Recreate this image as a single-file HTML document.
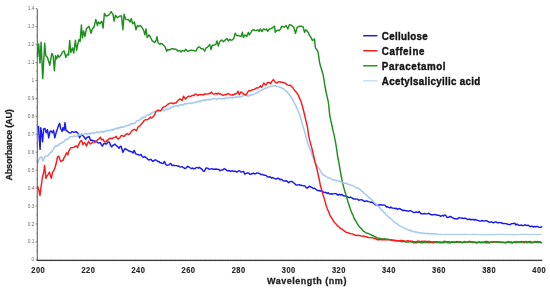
<!DOCTYPE html>
<html><head><meta charset="utf-8"><style>
html,body{margin:0;padding:0;background:#fff;}
svg{display:block;}
text{font-family:"Liberation Sans",sans-serif;}
</style></head><body>
<svg width="550" height="291" viewBox="0 0 550 291">
<rect width="550" height="291" fill="#fff"/>

<g fill="none" stroke-linejoin="round" stroke-linecap="round">
<path d="M37.9 127.7L38.5 126.5L39.2 137.9L40.1 149.4L40.8 127.7L41.7 134.1L42.6 141.7L43.6 129.0L44.9 128.4L46.2 132.8L47.5 129.6L48.7 137.9L50.0 131.5L51.0 130.9L52.3 132.8L53.6 130.3L54.8 137.9L56.1 132.8L57.4 129.0L58.6 125.2L59.7 123.3L60.8 129.0L62.1 131.5L63.0 127.7L64.0 130.3L65.0 122.6L66.0 130.3L66.9 130.9L67.8 131.6L68.8 132.3L69.9 133.0L71.0 132.9L72.0 131.6L73.0 131.9L74.1 132.3L75.1 132.0L76.1 131.6L77.0 132.4L77.9 133.0L79.6 137.8L80.7 135.6L81.7 134.3L82.7 135.4L83.7 136.4L84.8 138.0L85.8 139.2L87.2 137.1L88.2 137.2L89.2 136.4L90.6 140.6L91.7 140.0L92.7 140.6L93.8 140.6L94.8 141.2L96.2 141.3L97.5 142.6L98.9 143.0L100.3 142.6L101.3 144.6L102.4 146.1L103.4 144.1L104.4 143.3L105.8 144.0L106.8 143.7L107.9 142.0L109.4 142.1L110.5 145.2L111.5 146.9L112.8 145.5L113.8 145.0L114.9 144.1L116.0 145.3L117.0 146.2L118.0 146.8L119.0 148.3L120.0 146.6L121.1 146.2L122.0 149.3L122.9 152.4L124.6 149.0L125.6 148.7L126.6 149.7L127.6 149.9L128.7 151.0L129.8 151.0L130.8 151.7L131.9 151.7L132.9 153.1L134.2 150.4L135.6 153.8L136.6 154.1L137.7 154.5L138.8 154.8L139.8 155.2L141.1 154.5L142.1 156.4L143.2 157.3L144.6 156.6L145.6 157.3L146.7 158.0L147.7 159.2L148.7 160.0L149.8 159.6L150.8 159.3L151.9 160.6L152.9 161.4L153.9 160.6L155.0 160.0L156.0 160.0L157.0 160.7L158.1 161.7L159.1 161.4L160.1 162.8L161.2 162.8L162.2 163.6L163.2 163.5L164.4 161.4L166.0 164.9L167.4 165.2L168.8 164.9L169.8 163.9L170.8 163.5L172.2 165.6L173.6 165.2L175.0 165.6L176.4 165.6L177.8 166.2L178.8 165.9L179.8 166.9L180.9 167.1L182.1 166.6L183.4 167.5L184.8 168.6L186.2 167.9L187.6 166.3L189.0 167.0L190.4 168.0L191.4 168.6L192.4 168.0L193.8 168.8L195.2 168.6L196.2 167.6L197.2 167.5L198.3 168.2L199.3 167.3L200.7 168.3L202.1 169.3L203.1 171.0L204.2 171.4L205.2 169.6L206.2 168.0L207.6 168.1L209.0 169.3L210.4 169.1L211.8 168.6L213.2 169.3L214.5 169.3L215.9 169.0L217.3 169.3L218.7 169.4L220.1 170.7L221.1 170.1L222.1 170.0L223.1 169.9L224.2 168.6L225.6 169.3L226.6 170.4L227.7 170.7L229.1 170.5L230.4 171.4L231.6 171.0L232.7 170.8L233.9 171.4L235.2 171.1L236.6 172.1L237.6 171.8L238.7 170.7L239.8 170.9L240.8 172.1L242.2 171.8L243.5 171.4L244.9 174.2L246.3 173.4L247.7 172.8L248.8 173.1L249.8 174.2L251.2 174.2L252.5 173.5L253.5 173.1L254.5 173.9L255.5 173.8L256.9 172.9L258.3 173.1L259.6 173.7L261.0 174.5L262.4 174.4L263.8 175.2L265.2 175.2L266.6 175.9L267.6 176.9L268.6 177.0L269.7 176.7L270.7 177.3L271.8 178.2L272.8 177.5L273.8 178.1L274.9 178.6L275.9 179.1L276.9 178.8L278.0 178.0L279.0 178.6L280.0 179.8L281.1 179.2L282.1 179.8L283.1 180.7L284.5 181.1L285.9 180.7L287.3 181.5L288.7 182.8L289.7 181.8L290.7 181.4L292.1 181.5L293.5 182.8L294.6 183.3L295.6 184.9L297.0 185.0L298.3 184.9L299.4 184.7L300.4 185.4L301.4 185.2L302.5 185.6L303.9 185.8L305.2 186.1L306.2 187.7L307.3 188.1L308.4 187.1L309.4 186.2L310.8 187.0L312.2 187.6L313.2 188.6L314.2 188.2L315.3 188.7L316.3 189.7L317.7 190.6L319.1 190.4L320.1 191.2L321.1 190.7L322.2 191.0L323.2 191.8L324.6 192.5L326.0 192.5L327.1 193.4L328.2 192.6L329.2 193.9L330.3 194.0L331.4 193.7L332.5 194.0L333.6 193.9L334.8 193.6L335.9 193.6L337.0 194.4L338.1 195.2L339.2 194.3L340.3 195.0L341.4 194.5L342.5 195.0L343.6 195.9L344.7 196.0L345.8 196.0L346.9 196.2L348.0 197.1L349.2 197.7L350.4 197.1L351.6 197.6L352.7 198.3L353.9 199.0L355.1 199.0L356.3 199.1L357.5 199.1L358.8 200.2L360.0 199.9L361.0 199.8L362.1 199.9L363.1 200.6L364.1 201.2L365.2 201.3L366.3 200.9L367.5 201.2L368.6 201.6L369.7 201.9L370.7 202.4L371.8 202.1L372.8 202.8L373.8 203.3L375.2 204.7L376.3 205.2L377.4 205.4L378.5 204.9L379.6 205.0L380.7 204.7L381.9 205.2L383.0 204.9L384.1 205.1L385.3 205.4L386.5 207.0L387.6 206.8L388.7 207.3L389.8 208.0L390.9 206.9L392.0 208.0L393.1 208.1L394.2 208.2L395.3 208.7L396.5 208.3L397.6 209.4L398.7 208.8L399.8 208.5L400.9 209.4L402.0 210.0L403.1 210.5L404.2 210.2L405.4 210.6L406.5 210.7L407.6 211.0L408.8 211.2L410.0 210.6L411.1 210.9L412.1 211.5L413.1 212.2L414.2 212.5L415.2 212.3L416.2 212.0L417.3 212.4L418.3 212.3L419.4 211.6L420.8 213.7L421.9 213.8L423.1 213.9L424.2 213.5L425.4 213.8L426.6 213.9L427.7 213.7L428.9 213.3L430.1 214.2L431.3 214.8L432.4 214.8L433.6 214.7L434.8 214.4L436.0 214.7L437.1 215.3L438.2 215.3L439.3 215.4L440.4 216.2L441.5 216.0L442.6 215.3L443.6 216.1L444.6 214.9L445.7 215.4L447.0 217.4L448.1 217.4L449.1 217.0L450.1 216.5L451.2 216.7L452.3 217.7L453.5 218.1L454.6 218.8L455.9 218.8L457.1 219.1L458.4 218.0L459.6 217.6L460.9 218.1L462.0 218.0L463.1 218.6L464.2 218.1L465.3 218.2L466.4 218.8L467.5 219.5L468.6 219.3L469.7 219.1L470.8 219.9L471.9 219.5L473.0 219.4L474.1 220.0L475.2 219.5L476.3 220.0L477.4 220.2L478.5 220.7L479.7 221.0L480.9 221.1L482.0 220.5L483.1 220.9L484.3 220.9L485.4 220.8L486.6 220.7L487.8 221.4L488.9 222.0L490.1 222.2L491.2 221.9L492.4 222.3L493.5 222.8L494.7 222.0L495.9 222.0L497.0 222.5L498.2 222.7L499.4 222.5L500.5 222.6L501.6 223.0L502.8 223.5L504.0 223.4L505.1 223.6L506.5 223.7L507.8 224.3L509.0 224.6L510.2 224.6L511.5 223.7L512.7 223.6L513.8 223.3L514.9 223.5L516.0 225.0L517.1 224.1L518.2 225.0L519.3 225.4L520.4 225.3L521.5 225.0L522.6 225.7L523.7 225.4L524.8 224.8L525.9 225.1L527.0 225.7L528.1 225.2L529.2 226.0L530.2 226.7L531.3 226.2L532.4 226.3L533.4 227.1L534.4 226.3L535.5 226.9L536.5 226.5L537.5 226.4L538.5 227.1L539.6 227.4L540.7 227.3L541.7 226.8" stroke="#1a1af2" stroke-width="1.45"/>
<path d="M37.6 57.0L37.9 48.0L38.7 43.9L40.0 62.9L41.1 42.3L42.7 78.7L43.7 60.9L44.7 43.1L45.8 55.7L47.4 57.3L48.6 61.3L49.8 65.2L50.8 59.4L51.9 53.4L53.2 56.5L54.4 70.8L55.5 55.7L56.6 58.9L57.9 55.0L59.2 57.3L60.2 55.9L61.1 55.0L62.6 51.8L64.2 51.0L65.8 57.3L67.4 54.2L68.6 55.0L69.7 40.5L70.8 52.5L72.5 47.9L73.7 53.1L75.4 40.3L76.6 50.2L77.8 44.4L78.9 39.7L80.1 41.4L81.4 25.0L82.4 37.9L83.6 31.0L84.9 36.5L86.4 29.0L87.7 27.5L88.9 26.3L90.0 29.5L91.1 33.2L92.3 28.9L94.0 27.2L94.9 23.3L95.8 19.5L97.5 25.5L98.3 22.0L100.0 23.7L100.9 22.3L101.8 21.2L103.1 28.0L104.4 13.4L106.0 16.0L107.3 15.8L108.6 15.2L109.9 13.6L111.2 11.7L112.1 13.1L113.0 14.3L114.1 21.2L115.5 15.2L117.2 17.7L118.5 16.9L119.8 16.0L121.5 16.0L122.9 29.8L124.1 14.3L125.8 19.5L127.1 19.6L128.4 19.5L130.1 22.0L131.3 18.6L132.7 23.7L134.4 22.0L136.0 29.8L137.4 25.5L138.6 26.3L140.3 25.5L142.0 27.2L143.7 30.6L144.9 34.9L146.0 28.9L147.2 37.5L148.9 34.9L150.6 37.5L152.3 40.9L153.4 41.5L154.6 42.6L156.3 40.0L157.0 36.6L158.0 42.6L159.0 43.5L160.0 44.4L160.9 43.5L161.8 43.5L163.5 45.2L165.2 46.9L166.6 51.2L167.8 49.5L169.1 50.0L170.4 49.5L171.7 48.6L173.0 48.7L174.2 49.3L175.5 49.2L176.8 49.7L178.1 51.2L179.8 50.4L181.0 52.1L182.4 50.4L184.1 51.2L185.8 49.2L187.5 51.2L188.8 51.0L190.1 50.4L191.4 50.2L192.7 50.4L193.8 50.5L194.9 51.1L196.0 50.9L197.3 48.3L198.6 46.9L199.9 47.3L201.2 48.7L202.9 48.7L204.6 51.2L206.3 47.8L207.4 47.4L208.4 46.1L209.7 44.4L211.1 49.5L212.3 45.2L214.0 45.2L214.9 44.8L215.8 44.4L217.0 40.9L218.3 46.1L219.7 41.8L221.4 40.1L222.4 40.5L223.5 41.8L225.2 40.1L226.9 38.4L228.3 40.9L230.0 39.2L231.1 40.2L232.1 40.1L233.8 38.4L235.2 33.2L236.2 35.0L237.2 35.8L238.1 35.3L239.0 35.8L240.0 36.1L241.0 36.6L242.4 32.3L243.3 37.5L245.0 34.9L246.7 36.6L248.4 32.3L249.3 34.9L251.0 32.3L252.0 30.6L253.0 29.8L254.2 30.0L255.3 30.6L256.0 30.6L257.7 29.8L259.1 31.5L260.3 28.9L262.0 31.5L263.7 28.9L264.6 29.5L265.5 29.8L266.7 28.9L267.7 31.5L268.7 29.8L269.7 28.9L271.0 28.7L272.3 28.0L273.5 26.6L274.6 26.3L275.2 32.3L276.6 30.6L277.9 30.2L279.2 30.6L280.5 28.8L281.8 26.3L283.1 26.6L284.4 27.2L286.1 25.5L287.8 28.9L289.5 24.6L291.2 25.1L292.5 26.1L293.8 27.2L295.5 33.2L297.2 27.2L298.1 26.9L299.0 26.3L300.2 26.3L301.5 26.3L302.4 26.6L303.3 27.2L304.5 32.3L305.8 29.8L307.5 31.5L308.4 32.6L309.3 34.9L311.0 37.6L312.4 40.3L313.8 39.8L314.5 39.1L314.9 43.3L315.5 48.1L316.6 49.5L318.0 51.6L318.6 55.7L319.6 62.6L320.7 66.8L321.8 70.2L323.2 75.0L324.9 86.0L325.9 91.0L326.9 95.7L328.3 101.9L329.0 108.1L329.7 115.0L330.9 120.9L332.1 126.0L333.1 131.2L334.2 135.7L335.6 142.6L336.7 149.5L337.4 155.0L339.0 163.3L340.4 171.6L341.3 176.5L342.2 181.2L343.9 188.1L344.9 191.4L345.9 195.0L346.9 198.3L348.0 201.9L349.4 206.2L350.8 210.2L351.9 213.1L353.1 215.4L354.2 218.5L355.2 220.0L356.3 221.8L357.3 223.7L358.4 225.4L359.4 226.8L360.4 227.8L361.5 228.6L362.5 230.2L363.5 231.3L364.5 231.7L365.5 232.6L366.6 233.0L367.6 233.2L368.6 233.7L369.7 234.2L370.7 234.6L371.8 235.4L372.8 235.4L373.8 236.2L374.9 236.8L375.9 237.0L376.9 237.9L378.0 238.3L379.1 238.1L380.2 238.4L381.3 238.6L382.4 239.0L383.5 239.0L384.6 238.8L385.8 239.2L386.9 239.1L388.1 239.3L389.2 239.6L390.4 239.7L391.6 240.3L392.8 240.1L394.0 240.7L395.1 240.2L396.3 241.0L397.5 240.8L398.7 241.1L399.9 241.0L401.1 241.6L402.3 241.8L403.4 241.2L404.6 241.6L405.8 242.1L407.0 242.0L408.2 241.9L409.3 241.9L410.5 241.8L411.7 241.9L412.9 242.5L414.0 242.8L415.2 242.5L416.4 242.9L417.6 242.5L418.8 242.1L419.9 242.4L421.1 242.7L422.3 242.8L423.5 242.5L424.7 242.6L425.9 242.3L427.1 242.6L428.2 242.5L429.4 242.7L430.6 242.4L431.8 242.6L432.9 242.9L433.9 242.8L434.9 242.2L436.0 242.4" stroke="#1d901d" stroke-width="1.45"/>
<path d="M37.9 162.4L38.8 159.7L40.2 157.6L41.6 156.9L43.0 161.0L44.4 157.6L45.4 156.2L46.4 156.2L47.3 156.1L48.2 155.2L49.4 153.9L50.6 152.0L51.6 152.1L52.6 150.7L53.7 148.3L54.7 146.8L55.8 145.8L56.8 146.2L57.9 145.5L58.9 144.7L59.9 143.6L61.0 143.6L62.0 142.4L63.0 141.9L64.0 141.7L65.0 139.9L66.1 139.4L67.1 139.2L68.1 139.2L69.2 137.5L70.2 136.7L71.3 136.4L72.3 136.9L73.3 136.6L74.4 135.8L75.4 136.4L76.5 136.1L77.5 136.0L78.5 134.7L79.6 135.0L80.6 135.1L81.7 134.0L82.7 134.2L83.7 134.3L84.8 133.4L85.8 133.4L86.9 134.6L87.9 133.6L88.9 133.3L90.0 134.2L91.0 133.0L92.0 133.0L93.0 133.0L94.1 133.3L95.2 132.8L96.2 132.3L97.2 131.6L98.2 132.5L99.3 132.5L100.3 132.3L101.3 131.6L102.3 131.2L103.4 132.4L104.4 131.6L105.3 131.4L106.2 130.6L107.1 130.8L108.0 130.7L109.0 130.0L110.0 130.8L111.0 130.1L111.9 129.2L112.9 130.3L113.9 128.8L114.9 129.3L115.9 128.6L116.9 127.9L117.9 128.9L118.8 127.5L119.8 127.9L120.8 126.9L121.8 127.3L122.8 127.0L123.8 127.0L124.8 126.5L125.7 126.0L126.7 125.8L127.7 125.4L128.7 125.2L129.7 125.0L130.7 123.7L131.7 124.0L132.6 123.1L133.6 123.9L134.6 123.6L135.6 122.4L136.7 120.9L137.8 120.4L138.9 120.7L140.0 119.7L141.0 119.1L142.1 117.4L143.1 118.0L144.1 116.9L145.2 117.2L146.2 115.8L147.2 115.1L148.3 114.9L149.3 114.5L150.4 114.6L151.4 112.9L152.4 112.8L153.4 112.1L154.5 111.5L155.6 112.0L156.6 111.4L157.6 111.2L158.6 110.6L159.7 110.7L160.7 110.7L161.8 109.7L162.8 110.0L163.8 111.0L164.9 110.0L165.9 109.8L166.9 108.9L168.0 109.7L169.0 108.6L170.0 108.0L171.1 107.5L172.1 106.8L173.1 107.3L174.2 106.3L175.2 106.1L176.2 105.8L177.3 105.9L178.3 106.3L179.4 105.0L180.4 104.7L181.4 104.9L182.4 104.8L183.5 105.1L184.6 103.7L185.6 103.8L186.6 104.1L187.6 103.2L188.7 103.4L189.7 103.1L190.8 103.1L191.8 103.5L192.8 103.0L193.9 102.4L194.9 102.2L195.9 102.7L197.0 101.6L198.0 101.7L199.1 101.2L200.1 101.9L201.1 100.8L202.2 100.4L203.2 100.7L204.2 99.7L205.3 100.6L206.3 99.7L207.3 99.8L208.4 99.1L209.4 100.3L210.4 99.4L211.3 99.3L212.3 99.0L213.2 98.8L214.1 98.4L215.1 98.5L216.0 99.0L217.1 99.3L218.2 98.3L219.2 98.4L220.3 98.7L221.4 98.8L222.4 98.8L223.4 98.4L224.4 99.0L225.3 98.0L226.3 98.1L227.3 98.1L228.3 98.1L229.3 97.3L230.3 97.4L231.3 97.2L232.2 98.1L233.2 97.0L234.2 97.8L235.2 97.4L236.2 96.7L237.2 97.3L238.2 97.1L239.2 96.3L240.2 97.2L241.2 96.5L242.2 96.0L243.2 96.0L244.2 95.0L245.2 95.6L246.1 95.2L247.1 95.5L248.1 96.3L249.1 95.4L250.1 95.4L251.1 94.5L252.1 94.8L253.1 94.7L254.1 94.1L255.2 93.6L256.2 92.7L257.2 92.8L258.3 92.0L259.3 91.3L260.4 91.0L261.4 90.3L262.4 89.3L263.4 89.2L264.5 88.9L265.6 87.9L266.6 87.9L267.6 87.8L268.6 87.0L269.7 86.6L270.7 86.5L271.8 86.2L272.8 86.2L273.8 85.6L274.9 85.8L275.9 86.0L276.9 86.6L278.0 86.6L279.0 86.9L280.0 87.3L281.1 87.6L282.1 88.6L283.1 88.6L284.0 89.1L284.9 90.1L285.7 90.7L286.6 91.3L287.5 92.0L288.4 93.8L289.2 94.2L290.1 95.5L291.0 97.3L291.9 98.6L292.8 99.6L293.7 101.8L294.7 103.6L295.6 105.1L296.6 107.5L297.7 110.0L298.7 112.5L299.7 115.0L300.7 118.3L301.7 121.9L302.8 125.7L303.8 128.8L304.9 132.6L305.9 137.1L306.8 139.6L307.7 143.0L308.6 145.4L309.5 147.9L310.5 150.2L311.4 152.3L312.1 155.0L313.0 157.4L314.0 159.2L314.9 161.2L315.9 163.4L316.9 165.0L318.0 167.2L319.0 168.8L319.9 169.8L320.8 171.5L321.6 173.0L322.5 174.3L323.6 175.2L324.8 175.6L325.9 176.4L326.8 177.0L327.7 177.7L328.6 177.7L329.6 178.0L330.5 178.4L331.4 179.2L332.4 179.8L333.4 179.8L334.4 180.0L335.3 180.4L336.3 180.3L337.3 180.7L338.3 181.2L339.3 181.3L340.3 181.6L341.3 182.4L342.2 182.2L343.2 182.4L344.2 183.3L345.2 183.3L346.2 183.6L347.2 183.5L348.2 184.3L349.2 184.6L350.2 184.9L351.2 185.3L352.2 185.4L353.2 185.8L354.2 186.2L355.2 187.1L356.1 187.4L357.1 188.0L358.1 188.1L359.1 188.8L360.2 189.6L361.2 190.8L362.3 191.5L363.4 192.5L364.4 193.4L365.5 194.3L366.4 195.3L367.3 195.8L368.2 196.7L369.2 197.8L370.1 198.2L371.0 199.2L371.9 199.9L372.9 201.1L373.8 201.7L374.7 203.2L375.7 203.6L376.6 204.7L377.5 205.9L378.4 206.6L379.4 207.2L380.3 208.4L381.2 209.4L382.1 210.2L383.0 211.2L383.9 212.3L384.9 213.1L385.8 214.6L386.7 214.9L387.6 216.2L388.5 217.2L389.4 217.4L390.4 218.6L391.3 219.1L392.2 219.9L393.1 221.0L394.1 221.8L395.1 222.7L396.1 222.9L397.0 223.7L398.0 224.5L399.0 225.3L400.0 225.9L401.0 226.3L402.0 226.8L403.0 227.6L404.0 227.9L405.0 228.2L406.0 229.1L407.0 229.3L407.9 230.0L408.8 229.9L409.8 230.0L410.7 230.5L411.6 231.4L412.5 231.4L413.5 231.3L414.5 231.6L415.5 232.2L416.4 231.9L417.4 232.7L418.4 232.4L419.4 232.8L420.4 232.8L421.4 233.1L422.4 232.8L423.3 233.4L424.3 233.3L425.3 233.6L426.3 233.5L427.3 233.8L428.2 233.2L429.2 233.9L430.2 233.9L431.1 233.5L432.1 233.8L433.1 233.5L434.1 233.9L435.0 234.1L436.0 233.9" stroke="#a4c8ee" stroke-width="1.5"/>
<path d="M436.0 233.9L438.5 234.4L441.0 234.4L443.5 234.5L446.0 234.4L448.5 234.5L451.0 234.5L453.5 234.4L456.0 234.5L458.5 234.4L461.0 234.5L463.5 234.4L466.0 234.4L468.5 234.5L471.0 234.6L473.5 234.4L476.0 234.4L478.5 234.5L481.0 234.6L483.5 234.5L486.0 234.5L488.5 234.6L491.0 234.4L493.5 234.6L496.0 234.4L498.5 234.4L501.0 234.4L503.5 234.4L506.0 234.6L508.5 234.4L511.0 234.5L513.5 234.5L516.0 234.5L518.5 234.5L521.0 234.4L523.5 234.4L526.0 234.4L528.5 234.6L531.0 234.5L533.5 234.4L536.0 234.5L538.5 234.5L541.0 234.4" stroke="#aacdf0" stroke-width="1.25"/>
<path d="M37.6 186.5L38.9 190.0L40.0 195.5L41.0 187.0L42.6 176.5L43.8 172.0L44.6 165.5L45.9 178.5L46.8 176.2L47.8 174.9L49.5 172.1L50.4 175.6L51.3 178.3L52.6 172.1L53.7 170.8L54.7 168.6L56.1 163.8L57.5 156.9L58.9 156.2L59.9 159.7L60.9 161.7L62.0 160.4L63.0 160.4L64.0 157.7L65.1 156.2L66.5 152.8L67.8 154.8L68.8 151.1L69.9 149.0L71.3 147.6L72.7 147.5L74.1 147.3L75.4 146.1L76.5 146.0L77.5 147.5L78.5 145.1L79.6 142.6L80.7 141.0L81.7 140.6L83.0 144.7L84.4 142.6L85.5 143.9L86.5 146.1L87.5 143.5L88.6 141.2L89.6 143.3L90.6 144.0L91.7 143.2L92.7 142.0L93.8 141.2L94.8 142.6L95.8 141.4L96.8 141.2L97.8 139.4L98.9 139.2L100.3 137.1L101.7 139.9L103.1 139.2L104.1 141.4L105.1 142.0L106.2 141.6L107.2 139.9L108.2 139.9L109.3 138.5L110.8 138.3L112.2 138.7L113.5 137.6L114.9 137.4L116.3 136.2L117.3 138.6L118.4 139.0L119.8 137.9L121.1 135.6L122.2 135.4L123.2 136.2L124.2 136.3L125.3 134.9L126.3 134.2L127.3 133.5L128.3 134.4L129.4 134.2L130.4 132.9L131.5 131.4L132.8 130.2L134.2 129.3L135.2 129.7L136.3 130.7L137.4 128.5L138.4 126.6L140.0 125.9L141.4 123.9L142.8 122.5L144.2 120.5L145.5 119.7L146.9 119.9L148.3 119.0L149.4 118.4L150.4 116.9L151.4 118.0L152.4 117.6L153.4 116.6L154.5 114.9L155.9 111.4L156.9 110.8L158.0 110.0L159.3 110.7L160.7 110.7L162.1 108.6L163.5 107.0L164.9 106.6L166.2 105.8L167.6 104.5L169.0 103.7L170.4 103.1L171.8 102.9L173.1 103.8L174.5 103.0L175.9 103.1L176.9 101.8L178.0 100.4L179.1 99.3L180.1 99.0L181.1 99.6L182.1 100.4L183.5 96.2L184.6 97.8L185.6 99.0L186.6 97.8L187.7 96.9L188.8 96.1L190.0 96.4L191.1 96.2L192.5 95.4L193.9 95.5L195.2 94.1L196.6 94.4L198.0 95.5L199.4 94.7L200.8 94.8L202.2 94.6L203.5 94.8L204.9 93.8L206.3 94.1L207.7 94.0L209.1 93.5L210.1 93.5L211.1 92.1L212.1 92.9L213.2 94.1L214.6 94.1L215.9 93.3L217.1 94.2L218.2 93.0L219.4 94.0L220.4 93.8L221.4 94.7L222.6 95.2L223.7 95.2L224.9 94.7L226.0 94.7L227.2 93.7L228.3 94.0L229.4 94.0L230.4 94.9L231.4 95.1L232.5 94.7L233.6 95.0L234.8 93.8L235.9 94.0L236.9 93.2L238.0 91.2L239.4 94.7L240.8 91.9L242.2 92.7L243.5 94.0L244.9 94.7L246.3 94.7L247.7 92.0L249.1 90.5L250.4 91.0L251.8 90.0L253.0 89.7L254.3 89.4L255.5 88.6L256.9 87.8L258.3 87.9L259.4 87.0L260.4 85.8L261.7 87.2L262.8 85.2L263.8 83.0L264.9 84.2L265.9 85.1L267.3 83.0L268.3 82.5L269.3 82.4L270.7 83.7L272.1 81.0L273.5 79.6L274.9 81.7L275.9 82.7L276.9 83.0L277.9 82.1L279.0 81.7L280.1 81.7L281.1 82.4L282.5 82.2L283.8 83.0L285.2 83.0L286.6 84.4L288.0 85.1L289.1 85.4L290.1 85.1L291.4 86.5L292.8 87.6L294.2 90.0L295.6 91.3L297.0 93.4L298.0 94.5L299.0 96.9L300.1 99.4L301.1 101.7L302.5 106.5L303.9 112.0L304.9 116.3L305.9 120.5L307.3 126.0L308.6 135.7L309.6 139.9L310.7 144.0L312.1 149.1L313.5 155.0L314.9 161.9L315.9 165.3L316.9 168.8L317.9 173.5L319.0 178.5L320.7 186.8L321.9 190.6L323.1 195.0L324.1 198.1L325.2 201.9L326.2 205.7L327.3 208.8L328.7 211.9L330.1 215.7L331.2 217.4L332.4 219.2L333.5 221.2L334.7 222.7L335.8 223.7L337.0 225.4L338.0 226.2L339.1 227.0L340.1 228.2L341.1 228.8L342.1 229.1L343.1 230.1L344.2 230.9L345.2 231.6L346.3 232.4L347.4 232.5L348.6 232.8L349.7 233.4L350.8 233.7L351.8 233.9L352.9 234.0L353.9 234.7L354.9 235.0L356.2 235.5L357.4 235.5L358.7 235.3L360.0 235.6L361.0 235.9L362.1 236.2L363.1 235.9L364.1 236.2L365.2 236.6L366.2 236.8L367.2 237.0L368.3 237.6L369.4 237.6L370.5 237.6L371.6 237.9L372.7 237.8L373.8 238.3L374.9 238.6L375.9 238.7L376.9 239.6L378.0 239.7L379.2 239.8L380.4 239.3L381.6 239.9L382.8 239.5L384.0 239.7L385.2 239.7L386.4 239.6L387.6 239.7L388.8 239.7L390.0 239.9L391.2 239.8L392.3 240.6L393.5 240.1L394.7 240.8L395.9 240.7L397.0 240.5L398.1 240.6L399.2 240.7L400.3 240.4L401.4 240.5L402.6 240.7L403.7 240.8L404.8 241.2L405.9 241.3L407.0 240.9L408.2 240.6L409.3 241.1L410.5 240.9L411.7 241.5L412.9 241.3L414.0 241.8L415.2 241.6L416.3 241.6L417.4 241.3L418.5 241.1L419.6 241.3L420.8 241.8L421.9 241.2L423.0 241.4L424.1 241.3L425.2 241.3L426.3 241.4L427.5 241.7L428.7 241.3L429.9 241.7L431.1 241.7L432.4 242.0L433.6 241.7L434.8 242.1L436.0 241.8" stroke="#f81c1c" stroke-width="1.45"/>
<path d="M436.0 241.8L437.3 241.6L438.6 242.1L439.9 241.8L441.2 242.1L442.5 242.2L443.8 241.4L445.1 241.3L446.4 242.5L447.7 241.7L449.0 241.6L450.3 242.7L451.6 242.0L452.9 242.5L454.2 242.0L455.5 242.2L456.8 241.5L458.1 242.2L459.4 242.5L460.7 242.0L462.0 242.3L463.3 242.2L464.6 241.4L465.9 242.4L467.2 242.1L468.5 241.7L469.8 241.3L471.1 242.5L472.4 242.0L473.7 242.3L475.0 242.5L476.3 242.3L477.6 242.6L478.9 241.9L480.2 242.4L481.5 241.9L482.8 242.6L484.1 242.5L485.4 241.4L486.7 241.5L488.0 241.6L489.3 242.7L490.6 241.9L491.9 242.2L493.2 241.7L494.5 242.0L495.8 241.8L497.1 241.8L498.4 242.1L499.7 242.1L501.0 242.6L502.3 242.3L503.6 242.6L504.9 242.5L506.2 242.7L507.5 242.2L508.8 241.5L510.1 242.5L511.4 242.7L512.7 242.6L514.0 242.1L515.3 242.3L516.6 241.6L517.9 242.5L519.2 242.1L520.5 241.7L521.8 241.4L523.1 242.5L524.4 242.7L525.7 241.4L527.0 242.4L528.3 241.9L529.6 241.5L530.9 241.7L532.2 242.4L533.5 242.5L534.8 241.4L536.1 242.2L537.4 241.4L538.7 242.3L540.0 241.8L541.3 242.5" stroke="#f81c1c" stroke-width="1.45"/>
<path d="M436.0 242.4L437.3 242.4L438.6 242.6L439.9 242.7L441.2 242.8L442.5 242.6L443.8 242.8L445.1 241.7L446.4 242.3L447.7 242.8L449.0 242.5L450.3 242.8L451.6 241.8L452.9 242.3L454.2 242.0L455.5 242.4L456.8 242.4L458.1 241.7L459.4 242.0L460.7 242.0L462.0 242.8L463.3 242.6L464.6 241.9L465.9 242.7L467.2 241.9L468.5 242.4L469.8 241.9L471.1 241.7L472.4 242.7L473.7 242.0L475.0 242.0L476.3 242.9L477.6 242.7L478.9 242.0L480.2 242.9L481.5 242.3L482.8 242.5L484.1 241.9L485.4 242.8L486.7 242.5L488.0 242.9L489.3 242.8L490.6 242.1L491.9 242.1L493.2 241.9L494.5 241.9L495.8 241.8L497.1 242.1L498.4 242.4L499.7 241.7L501.0 242.5L502.3 242.1L503.6 242.1L504.9 242.7L506.2 242.3L507.5 242.1L508.8 242.3L510.1 242.5L511.4 241.8L512.7 242.9L514.0 241.7L515.3 242.6L516.6 242.7L517.9 241.7L519.2 242.6L520.5 242.1L521.8 242.4L523.1 241.7L524.4 241.8L525.7 241.9L527.0 242.8L528.3 241.9L529.6 242.6L530.9 242.8L532.2 242.8L533.5 242.1L534.8 242.1L536.1 242.3L537.4 242.6L538.7 241.8L540.0 242.6L541.3 242.7" stroke="#1d901d" stroke-width="1.45"/>
</g>
<path d="M40.21 258.6V262.4M42.71 258.6V262.4M45.22 258.6V262.4M47.72 258.6V262.4M50.23 258.6V262.4M52.73 258.6V262.4M55.24 258.6V262.4M57.74 258.6V262.4M60.25 258.6V262.4M62.75 258.6V262.4M65.26 258.6V262.4M67.76 258.6V262.4M70.27 258.6V262.4M72.77 258.6V262.4M75.28 258.6V262.4M77.78 258.6V262.4M80.28 258.6V262.4M82.79 258.6V262.4M85.29 258.6V262.4M87.80 258.6V262.4M90.30 258.6V262.4M92.81 258.6V262.4M95.31 258.6V262.4M97.82 258.6V262.4M100.32 258.6V262.4M102.83 258.6V262.4M105.33 258.6V262.4M107.84 258.6V262.4M110.34 258.6V262.4M112.85 258.6V262.4M115.35 258.6V262.4M117.86 258.6V262.4M120.36 258.6V262.4M122.87 258.6V262.4M125.37 258.6V262.4M127.88 258.6V262.4M130.38 258.6V262.4M132.89 258.6V262.4M135.39 258.6V262.4M137.90 258.6V262.4M140.40 258.6V262.4M142.91 258.6V262.4M145.41 258.6V262.4M147.92 258.6V262.4M150.42 258.6V262.4M152.93 258.6V262.4M155.43 258.6V262.4M157.94 258.6V262.4M160.44 258.6V262.4M162.95 258.6V262.4M165.45 258.6V262.4M167.96 258.6V262.4M170.46 258.6V262.4M172.97 258.6V262.4M175.47 258.6V262.4M177.98 258.6V262.4M180.48 258.6V262.4M182.99 258.6V262.4M185.49 258.6V262.4M188.00 258.6V262.4M190.50 258.6V262.4M193.01 258.6V262.4M195.51 258.6V262.4M198.02 258.6V262.4M200.52 258.6V262.4M203.03 258.6V262.4M205.53 258.6V262.4M208.04 258.6V262.4M210.54 258.6V262.4M213.05 258.6V262.4M215.55 258.6V262.4M218.06 258.6V262.4M220.56 258.6V262.4M223.07 258.6V262.4M225.57 258.6V262.4M228.08 258.6V262.4M230.58 258.6V262.4M233.09 258.6V262.4M235.59 258.6V262.4M238.10 258.6V262.4M240.60 258.6V262.4M243.11 258.6V262.4M245.61 258.6V262.4M248.12 258.6V262.4M250.62 258.6V262.4M253.13 258.6V262.4M255.63 258.6V262.4M258.14 258.6V262.4M260.64 258.6V262.4M263.15 258.6V262.4M265.65 258.6V262.4M268.16 258.6V262.4M270.66 258.6V262.4M273.17 258.6V262.4M275.67 258.6V262.4M278.18 258.6V262.4M280.68 258.6V262.4M283.19 258.6V262.4M285.69 258.6V262.4M288.20 258.6V262.4M290.70 258.6V262.4M293.21 258.6V262.4M295.71 258.6V262.4M298.22 258.6V262.4M300.72 258.6V262.4M303.23 258.6V262.4M305.73 258.6V262.4M308.24 258.6V262.4M310.74 258.6V262.4M313.25 258.6V262.4M315.75 258.6V262.4M318.26 258.6V262.4M320.76 258.6V262.4M323.27 258.6V262.4M325.77 258.6V262.4M328.28 258.6V262.4M330.78 258.6V262.4M333.29 258.6V262.4M335.79 258.6V262.4M338.30 258.6V262.4M340.80 258.6V262.4M343.31 258.6V262.4M345.81 258.6V262.4M348.32 258.6V262.4M350.82 258.6V262.4M353.33 258.6V262.4M355.83 258.6V262.4M358.34 258.6V262.4M360.84 258.6V262.4M363.35 258.6V262.4M365.85 258.6V262.4M368.36 258.6V262.4M370.86 258.6V262.4M373.37 258.6V262.4M375.87 258.6V262.4M378.38 258.6V262.4M380.88 258.6V262.4M383.39 258.6V262.4M385.89 258.6V262.4M388.40 258.6V262.4M390.90 258.6V262.4M393.41 258.6V262.4M395.91 258.6V262.4M398.42 258.6V262.4M400.92 258.6V262.4M403.43 258.6V262.4M405.93 258.6V262.4M408.44 258.6V262.4M410.94 258.6V262.4M413.45 258.6V262.4M415.95 258.6V262.4M418.46 258.6V262.4M420.96 258.6V262.4M423.47 258.6V262.4M425.97 258.6V262.4M428.48 258.6V262.4M430.98 258.6V262.4M433.49 258.6V262.4M435.99 258.6V262.4M438.50 258.6V262.4M441.00 258.6V262.4M443.51 258.6V262.4M446.01 258.6V262.4M448.52 258.6V262.4M451.02 258.6V262.4M453.53 258.6V262.4M456.03 258.6V262.4M458.54 258.6V262.4M461.04 258.6V262.4M463.55 258.6V262.4M466.05 258.6V262.4M468.56 258.6V262.4M471.06 258.6V262.4M473.57 258.6V262.4M476.07 258.6V262.4M478.58 258.6V262.4M481.08 258.6V262.4M483.59 258.6V262.4M486.09 258.6V262.4M488.60 258.6V262.4M491.10 258.6V262.4M493.61 258.6V262.4M496.11 258.6V262.4M498.62 258.6V262.4M501.12 258.6V262.4M503.63 258.6V262.4M506.13 258.6V262.4M508.64 258.6V262.4M511.14 258.6V262.4M513.65 258.6V262.4M516.15 258.6V262.4M518.66 258.6V262.4M521.16 258.6V262.4M523.67 258.6V262.4M526.17 258.6V262.4M528.68 258.6V262.4M531.18 258.6V262.4M533.69 258.6V262.4M536.19 258.6V262.4M538.70 258.6V262.4M541.20 258.6V262.4" stroke="#e2e2e2" stroke-width="0.6"/>
<line x1="37.25" y1="8.8" x2="37.25" y2="260.5" stroke="#505050" stroke-width="1.0"/>
<line x1="36.8" y1="260.25" x2="542.3" y2="260.25" stroke="#383838" stroke-width="1.25"/>
<g stroke="#6a6a6a" stroke-width="0.8">
<line x1="35.6" y1="259.80" x2="37.3" y2="259.80"/>
<line x1="36.4" y1="250.84" x2="37.3" y2="250.84"/>
<line x1="35.6" y1="241.87" x2="37.3" y2="241.87"/>
<line x1="36.4" y1="232.91" x2="37.3" y2="232.91"/>
<line x1="35.6" y1="223.94" x2="37.3" y2="223.94"/>
<line x1="36.4" y1="214.98" x2="37.3" y2="214.98"/>
<line x1="35.6" y1="206.01" x2="37.3" y2="206.01"/>
<line x1="36.4" y1="197.05" x2="37.3" y2="197.05"/>
<line x1="35.6" y1="188.08" x2="37.3" y2="188.08"/>
<line x1="36.4" y1="179.12" x2="37.3" y2="179.12"/>
<line x1="35.6" y1="170.15" x2="37.3" y2="170.15"/>
<line x1="36.4" y1="161.19" x2="37.3" y2="161.19"/>
<line x1="35.6" y1="152.22" x2="37.3" y2="152.22"/>
<line x1="36.4" y1="143.25" x2="37.3" y2="143.25"/>
<line x1="35.6" y1="134.29" x2="37.3" y2="134.29"/>
<line x1="36.4" y1="125.32" x2="37.3" y2="125.32"/>
<line x1="35.6" y1="116.36" x2="37.3" y2="116.36"/>
<line x1="36.4" y1="107.39" x2="37.3" y2="107.39"/>
<line x1="35.6" y1="98.43" x2="37.3" y2="98.43"/>
<line x1="36.4" y1="89.46" x2="37.3" y2="89.46"/>
<line x1="35.6" y1="80.50" x2="37.3" y2="80.50"/>
<line x1="36.4" y1="71.53" x2="37.3" y2="71.53"/>
<line x1="35.6" y1="62.57" x2="37.3" y2="62.57"/>
<line x1="36.4" y1="53.60" x2="37.3" y2="53.60"/>
<line x1="35.6" y1="44.64" x2="37.3" y2="44.64"/>
<line x1="36.4" y1="35.68" x2="37.3" y2="35.68"/>
<line x1="35.6" y1="26.71" x2="37.3" y2="26.71"/>
<line x1="36.4" y1="17.74" x2="37.3" y2="17.74"/>
<line x1="35.6" y1="8.78" x2="37.3" y2="8.78"/>
</g>
<g fill="#6f6f6f" font-size="4.8" text-anchor="end">
<text x="34.2" y="261.40">0</text>
<text x="34.4" y="243.47" textLength="6.6" lengthAdjust="spacing">0.1</text>
<text x="34.4" y="225.54" textLength="6.6" lengthAdjust="spacing">0.2</text>
<text x="34.4" y="207.61" textLength="6.6" lengthAdjust="spacing">0.3</text>
<text x="34.4" y="189.68" textLength="6.6" lengthAdjust="spacing">0.4</text>
<text x="34.4" y="171.75" textLength="6.6" lengthAdjust="spacing">0.5</text>
<text x="34.4" y="153.82" textLength="6.6" lengthAdjust="spacing">0.6</text>
<text x="34.4" y="135.89" textLength="6.6" lengthAdjust="spacing">0.7</text>
<text x="34.4" y="117.96" textLength="6.6" lengthAdjust="spacing">0.8</text>
<text x="34.4" y="100.03" textLength="6.6" lengthAdjust="spacing">0.9</text>
<text x="34.2" y="82.10">1</text>
<text x="34.4" y="64.17" textLength="6.6" lengthAdjust="spacing">1.1</text>
<text x="34.4" y="46.24" textLength="6.6" lengthAdjust="spacing">1.2</text>
<text x="34.4" y="28.31" textLength="6.6" lengthAdjust="spacing">1.3</text>
<text x="34.4" y="10.38" textLength="6.6" lengthAdjust="spacing">1.4</text>
</g>
<g fill="#262626" font-size="8.5" font-weight="bold" stroke="#262626" stroke-width="0.15">
<text transform="translate(31.30,273.1) scale(0.88,1)" textLength="15.23" lengthAdjust="spacing">200</text>
<text transform="translate(81.40,273.1) scale(0.88,1)" textLength="15.23" lengthAdjust="spacing">220</text>
<text transform="translate(131.50,273.1) scale(0.88,1)" textLength="15.23" lengthAdjust="spacing">240</text>
<text transform="translate(181.60,273.1) scale(0.88,1)" textLength="15.23" lengthAdjust="spacing">260</text>
<text transform="translate(231.70,273.1) scale(0.88,1)" textLength="15.23" lengthAdjust="spacing">280</text>
<text transform="translate(281.80,273.1) scale(0.88,1)" textLength="15.23" lengthAdjust="spacing">300</text>
<text transform="translate(331.90,273.1) scale(0.88,1)" textLength="15.23" lengthAdjust="spacing">320</text>
<text transform="translate(382.00,273.1) scale(0.88,1)" textLength="15.23" lengthAdjust="spacing">340</text>
<text transform="translate(432.10,273.1) scale(0.88,1)" textLength="15.23" lengthAdjust="spacing">360</text>
<text transform="translate(482.20,273.1) scale(0.88,1)" textLength="15.23" lengthAdjust="spacing">380</text>
<text transform="translate(532.30,273.1) scale(0.88,1)" textLength="15.23" lengthAdjust="spacing">400</text>
</g>
<text transform="translate(267,284.2) scale(0.92,1)" x="0" y="0" font-size="9.8" font-weight="bold" fill="#1e1e1e" stroke="#1e1e1e" stroke-width="0.3" textLength="86.30" lengthAdjust="spacing">Wavelength (nm)</text>
<text transform="translate(12.2,180.6) rotate(-90) scale(0.93,1)" x="0" y="0" font-size="9.8" font-weight="bold" fill="#1e1e1e" stroke="#1e1e1e" stroke-width="0.3" textLength="76.77" lengthAdjust="spacing">Absorbance (AU)</text>
<line x1="363.2" y1="35.70" x2="377.4" y2="35.70" stroke="#1a1af2" stroke-width="1.5"/>
<text transform="translate(381.8,40.30) scale(0.9,1)" x="0" y="0" font-size="10.9" font-weight="bold" fill="#141414" stroke="#141414" stroke-width="0.4" textLength="51.11" lengthAdjust="spacing">Cellulose</text>
<line x1="363.2" y1="50.73" x2="377.4" y2="50.73" stroke="#f81c1c" stroke-width="1.5"/>
<text transform="translate(381.8,55.33) scale(0.9,1)" x="0" y="0" font-size="10.9" font-weight="bold" fill="#141414" stroke="#141414" stroke-width="0.4" textLength="47.33" lengthAdjust="spacing">Caffeine</text>
<line x1="363.2" y1="65.76" x2="377.4" y2="65.76" stroke="#2a962a" stroke-width="1.5"/>
<text transform="translate(381.8,70.36) scale(0.9,1)" x="0" y="0" font-size="10.9" font-weight="bold" fill="#141414" stroke="#141414" stroke-width="0.4" textLength="70.89" lengthAdjust="spacing">Paracetamol</text>
<line x1="363.2" y1="80.79" x2="377.4" y2="80.79" stroke="#c6e0f7" stroke-width="1.5"/>
<text transform="translate(381.8,85.39) scale(0.9,1)" x="0" y="0" font-size="10.9" font-weight="bold" fill="#141414" stroke="#141414" stroke-width="0.4" textLength="109.33" lengthAdjust="spacing">Acetylsalicyilic acid</text>
</svg>
</body></html>
